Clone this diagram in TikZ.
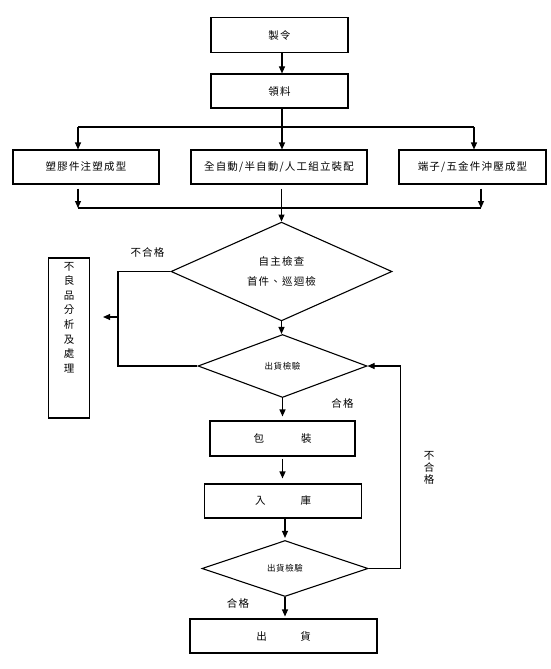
\documentclass[tikz,border=0pt]{standalone}
\usepackage{fontspec}
\setmainfont{Noto Sans CJK TC}
\usetikzlibrary{arrows.meta,shapes.geometric,calc}
\newcommand\ks{\kern1.2pt}
\begin{document}
\begin{tikzpicture}[x=1pt,y=-1pt,
  line width=1.1pt,
  box/.style={draw,rectangle,inner sep=0pt,font=\fontsize{10.5}{12}\selectfont},
  dia/.style={draw,diamond,inner sep=0pt,font=\fontsize{10.5}{12}\selectfont},
  arr/.style={-{Triangle[length=7pt,width=6pt]}},
  lbl/.style={inner sep=0pt,font=\fontsize{10.5}{12}\selectfont}]
\useasboundingbox (0,0) rectangle (551,669);
\fill[white] (0,0) rectangle (551,669);

% nodes
\node[box,minimum width=137pt,minimum height=35pt] (order) at (279.5,35) {製\ks 令};
\node[box,minimum width=137pt,minimum height=34pt] (pick) at (279.5,91) {領\ks 料};
\node[box,minimum width=146pt,minimum height=34pt] (mold) at (86,167) {塑\ks 膠\ks 件\ks 注\ks 塑\ks 成\ks 型};
\node[box,minimum width=176pt,minimum height=34pt] (asm) at (279,167) {全\ks 自\ks 動\ks /\ks 半\ks 自\ks 動\ks /\ks 人\ks 工\ks 組\ks 立\ks 裝\ks 配};
\node[box,minimum width=147pt,minimum height=34pt] (term) at (472.5,167) {端\ks 子\ks /\ks 五\ks 金\ks 件\ks 沖\ks 壓\ks 成\ks 型};
\node[dia,minimum width=221pt,minimum height=85pt,align=center] (d1) at (281.5,271.5)
  {自\ks 主\ks 檢\ks 查\\[8pt]首\ks 件\ks 、\ks 巡\ks 迴\ks 檢};
\node[dia,minimum width=169pt,minimum height=63pt,font=\fontsize{8.5}{10}\selectfont] (d2) at (282.5,366) {出\kern.6pt 貨\kern.6pt 檢\kern.6pt 驗};
\node[box,minimum width=41pt,minimum height=160pt] (bad) at (69,338)
  {\parbox[c][152pt][t]{14pt}{\centering\baselineskip=14.6pt 不\\良\\品\\分\\析\\及\\處\\理}};
\node[box,minimum width=145pt,minimum height=35pt] (pack) at (282.5,438.5) {包\hspace{37pt}裝};
\node[box,minimum width=157pt,minimum height=34pt] (store) at (283,501) {入\hspace{35pt}庫};
\node[dia,minimum width=166pt,minimum height=56pt,font=\fontsize{8.5}{10}\selectfont] (d3) at (285,568.5) {出\kern.6pt 貨\kern.6pt 檢\kern.6pt 驗};
\node[box,minimum width=187pt,minimum height=34pt] (ship) at (283.5,636) {出\hspace{33.5pt}貨};

% labels
\node[lbl] (l1) at (147.5,252) {不\ks 合\ks 格};
\node[lbl] (l2) at (342.5,403) {合\ks 格};
\node[lbl,align=center] (l3) at (429,468) {\baselineskip=15pt 不\\合\\格};
\node[lbl] (l4) at (238,603) {合\ks 格};

% coordinates
\coordinate (jt) at (282,127);
\coordinate (jl) at (78,127);
\coordinate (jr) at (474,127);
\coordinate (bl) at (78,208);
\coordinate (br) at (481,208);
\coordinate (lx) at (118,0);
\coordinate (lm) at (118,317);
\coordinate (rx) at (400.5,0);

% connectors
\draw[arr] (order.south -| jt) -- (pick.north -| jt);
\draw (pick.south -| jt) -- (jt);
\draw (jl) -- (jr);
\draw[arr] (jl) -- (jl |- mold.north);
\draw[arr] (jt) -- (jt |- asm.north);
\draw[arr] (jr) -- (jr |- term.north);
\draw (bl) -- (br);
\draw[arr,shorten <=4pt] (mold.south -| bl) -- (bl);
\draw[arr,shorten <=4pt] (term.south -| br) -- (br);
\draw[arr,shorten <=4pt] (asm.south -| d1.north) -- (d1.north);
\draw[arr] (d1.south) -- (d1.south |- d2.north);
\draw (d1.west) -- (d1.west -| lx) -- (d2.west -| lx) -- (d2.west);
\draw[arr,shorten >=13pt] (lm) -- (lm -| bad.east);
\draw[arr,shorten >=4pt] (d2.south) -- (d2.south |- pack.north);
\draw[arr,shorten <=2pt,shorten >=5pt] (pack.south) -- (pack.south |- store.north);
\draw[arr,shorten >=2pt] (store.south -| d3.north) -- (d3.north);
\draw[arr,shorten >=2pt] (d3.south) -- (d3.south |- ship.north);
\draw[arr] (d3.east) -- (d3.east -| rx) -- (d2.east -| rx) -- (d2.east);
\end{tikzpicture}
\end{document}
